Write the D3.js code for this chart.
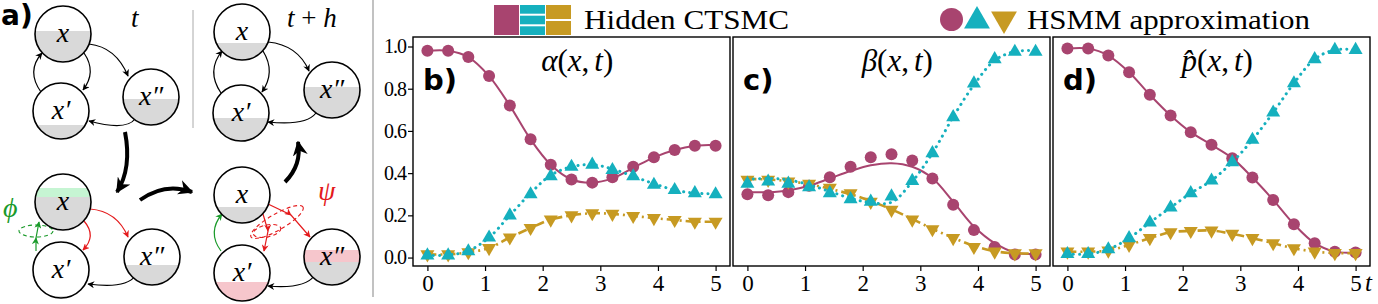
<!DOCTYPE html>
<html>
<head>
<meta charset="utf-8">
<script src="https://cdn.jsdelivr.net/npm/d3@7/dist/d3.min.js"></script>
<style>
  body { margin: 0; background: #fff; }
  svg text { font-family: "Liberation Serif", "DejaVu Serif", serif; }
</style>
</head>
<body>
<svg id="fig" width="1378" height="304"></svg>
<script>
// time grid shared by all three panels
const tVals = [0, 0.36, 0.71, 1.07, 1.43, 1.79, 2.14, 2.5, 2.86, 3.21, 3.57, 3.93, 4.29, 4.64, 5];
const xTicks = [0, 1, 2, 3, 4, 5];
const yTicks = [0, 0.2, 0.4, 0.6, 0.8, 1.0];

// b) alpha(x,t): line = hidden CTSMC, dots = HSMM approximation
const bLineM = [0.98, 0.98, 0.95, 0.86, 0.72, 0.56, 0.44, 0.37, 0.355, 0.375, 0.425, 0.475, 0.51, 0.53, 0.535];
const bLineT = [0.01, 0.012, 0.032, 0.095, 0.2, 0.305, 0.39, 0.43, 0.44, 0.42, 0.385, 0.35, 0.32, 0.305, 0.302];
const bLineG = [0.015, 0.015, 0.025, 0.045, 0.095, 0.14, 0.18, 0.2, 0.21, 0.207, 0.197, 0.187, 0.178, 0.17, 0.17];
const bDotM = [0.98, 0.98, 0.95, 0.86, 0.72, 0.56, 0.44, 0.37, 0.355, 0.38, 0.43, 0.475, 0.51, 0.53, 0.53];
const bDotT = [0.01, 0.01, 0.03, 0.095, 0.2, 0.3, 0.385, 0.43, 0.44, 0.415, 0.385, 0.345, 0.32, 0.305, 0.3];
const bDotG = [0.015, 0.015, 0.025, 0.045, 0.095, 0.14, 0.18, 0.2, 0.21, 0.207, 0.197, 0.187, 0.178, 0.17, 0.17];

// c) beta(x,t)
const cLineM = [0.31, 0.31, 0.318, 0.34, 0.375, 0.41, 0.437, 0.447, 0.43, 0.376, 0.265, 0.147, 0.068, 0.024, 0.017];
const cLineT = [0.37, 0.375, 0.368, 0.345, 0.313, 0.281, 0.26, 0.262, 0.36, 0.495, 0.666, 0.818, 0.934, 0.976, 0.98];
const cLineG = [0.372, 0.37, 0.362, 0.348, 0.326, 0.3, 0.268, 0.228, 0.183, 0.136, 0.094, 0.055, 0.03, 0.02, 0.02];
const cDotM = [0.30, 0.295, 0.31, 0.34, 0.38, 0.43, 0.475, 0.49, 0.46, 0.375, 0.25, 0.13, 0.05, 0.015, 0.015];
const cDotT = [0.35, 0.36, 0.35, 0.333, 0.305, 0.277, 0.265, 0.29, 0.363, 0.495, 0.665, 0.825, 0.94, 0.975, 0.975];
const cDotG = [0.368, 0.368, 0.36, 0.35, 0.33, 0.305, 0.264, 0.226, 0.18, 0.134, 0.092, 0.05, 0.028, 0.02, 0.02];

// d) p-hat(x,t)
const dLineM = [0.99, 0.99, 0.957, 0.878, 0.771, 0.673, 0.594, 0.534, 0.471, 0.379, 0.273, 0.158, 0.068, 0.028, 0.024];
const dLineT = [0.017, 0.017, 0.039, 0.092, 0.166, 0.237, 0.305, 0.365, 0.452, 0.558, 0.687, 0.826, 0.94, 0.984, 0.984];
const dLineG = [0.028, 0.028, 0.033, 0.06, 0.092, 0.12, 0.126, 0.128, 0.112, 0.092, 0.068, 0.044, 0.028, 0.021, 0.021];
const dDotM = [0.99, 0.99, 0.957, 0.878, 0.771, 0.673, 0.594, 0.534, 0.471, 0.379, 0.273, 0.158, 0.068, 0.028, 0.024];
const dDotT = [0.017, 0.017, 0.039, 0.092, 0.166, 0.237, 0.305, 0.365, 0.452, 0.558, 0.687, 0.826, 0.94, 0.984, 0.984];
const dDotG = [0.028, 0.028, 0.033, 0.06, 0.092, 0.12, 0.126, 0.128, 0.112, 0.092, 0.068, 0.044, 0.028, 0.021, 0.021];

const MAG = "#a8446f", TEAL = "#15b0be", GOLD = "#c79a22";

const svg = d3.select("#fig");
const defs = svg.append("defs");

// ---------- panel a) : state diagrams ----------
function arrowMarker(id, color, w, h) {
  defs.append("marker")
    .attr("id", id)
    .attr("viewBox", "0 0 10 10")
    .attr("refX", 9).attr("refY", 5)
    .attr("markerUnits", "userSpaceOnUse")
    .attr("markerWidth", w).attr("markerHeight", h)
    .attr("orient", "auto")
    .append("path")
      .attr("d", "M0,0 L10,5 L0,10 L3,5 z")
      .attr("fill", color);
}
arrowMarker("ahK", "#000", 7, 7);
arrowMarker("ahR", "#e41a1c", 7, 7);
arrowMarker("ahG", "#1a9a2a", 7, 7);
arrowMarker("ahBig", "#000", 15, 15);

const gA = svg.append("g");
let clipN = 0;

function node(cx, cy, label, bands) {
  const id = "nc" + (clipN++);
  defs.append("clipPath").attr("id", id)
    .append("circle").attr("cx", cx).attr("cy", cy).attr("r", 28);
  gA.append("circle").attr("cx", cx).attr("cy", cy).attr("r", 28).attr("fill", "#fff");
  bands.forEach(b => {
    gA.append("rect")
      .attr("x", cx - 30).attr("y", b[0])
      .attr("width", 60).attr("height", b[1] - b[0])
      .attr("fill", b[2])
      .attr("clip-path", "url(#" + id + ")");
  });
  gA.append("circle").attr("cx", cx).attr("cy", cy).attr("r", 28)
    .attr("fill", "none").attr("stroke", "#000").attr("stroke-width", 1.6);
  gA.append("text")
    .attr("x", cx).attr("y", cy + 8)
    .attr("text-anchor", "middle")
    .style("font-size", "28px").style("font-style", "italic")
    .style("font-family", "'Liberation Serif', serif")
    .text(label);
}

function arrow(d, color, marker, mid, width) {
  const p = gA.append("path").attr("d", d)
    .attr("fill", "none").attr("stroke", color)
    .attr("stroke-width", width || 1.2)
    .attr("marker-end", "url(#" + marker + ")");
  if (mid) p.attr("marker-mid", "url(#" + marker + ")");
}

function dashedEllipse(cx, cy, rx, ry, rot, color) {
  gA.append("ellipse")
    .attr("cx", 0).attr("cy", 0).attr("rx", rx).attr("ry", ry)
    .attr("transform", `translate(${cx},${cy}) rotate(${rot})`)
    .attr("fill", "none").attr("stroke", color)
    .attr("stroke-width", 1.1).attr("stroke-dasharray", "4,3");
}

const GRAY = "#d9d9d9", GREEN = "#c6f5d3", PINK = "#f6c6cc";

// arrows first so the nodes sit on top of their ends
// top left (t)
arrow("M84,53 Q97,72 83,90", "#000", "ahK");
arrow("M41,92 Q26,71 42,53", "#000", "ahK");
arrow("M89,44 Q116,47 128,76", "#000", "ahK");
arrow("M135,119 Q126,131 89,121", "#000", "ahK");
// top right (t + h)
arrow("M263,51 Q276,72 262,92", "#000", "ahK");
arrow("M221,93 Q206,71 222,51", "#000", "ahK");
arrow("M268,42 Q298,45 309,71", "#000", "ahK");
arrow("M316,113 Q306,126 268,122", "#000", "ahK");
// bottom left
arrow("M84,221 Q97,236 83,250", "#e41a1c", "ahR");
arrow("M90,209 Q117,211 128,237", "#e41a1c", "ahR");
arrow("M36,251 L36,238 L39,222", "#1a9a2a", "ahG", true);
arrow("M135,276 Q126,289 88,284", "#000", "ahK");
// bottom right
arrow("M221,251 Q207,232 222,214", "#1a9a2a", "ahG");
arrow("M263,214 L268,231 L264,251", "#e41a1c", "ahR", true);
arrow("M268,204 L291,215 L310,237", "#e41a1c", "ahR", true);
arrow("M314,276 Q305,289 268,286", "#000", "ahK");

dashedEllipse(36, 231, 17, 6, 0, "#1a9a2a");
dashedEllipse(267, 231, 14, 6, -12, "#e41a1c");
dashedEllipse(277, 222, 30, 8, -30, "#e41a1c");

node(63, 34, "x", [[31, 70, GRAY]]);
node(151, 97, "x\u2033", [[99, 130, GRAY]]);
node(61, 111, "x\u2032", [[125, 145, GRAY]]);

node(242, 32, "x", [[43, 65, GRAY]]);
node(332, 90, "x\u2033", [[87, 125, GRAY]]);
node(241, 113, "x\u2032", [[118, 145, GRAY]]);

node(63, 202, "x", [[188, 197, GREEN], [197, 235, GRAY]]);
node(152, 257, "x\u2033", [[265, 290, GRAY]]);
node(61, 270, "x\u2032", [[296, 302, GRAY]]);

node(242, 195, "x", [[207, 230, GRAY]]);
node(332, 257, "x\u2033", [[250, 262, PINK], [262, 290, GRAY]]);
node(242, 273, "x\u2032", [[282, 305, PINK]]);

// big transition arrows
arrow("M125,132 Q132,168 117,192", "#000", "ahBig", false, 4);
arrow("M140,200 Q165,182 192,192", "#000", "ahBig", false, 4);
arrow("M285,182 Q302,165 298,142", "#000", "ahBig", false, 4);

gA.append("text").attr("x", 1).attr("y", 25)
  .style("font-family", "'DejaVu Sans', sans-serif").style("font-weight", "bold")
  .style("font-size", "28px").text("a)");
gA.append("text").attr("x", 131).attr("y", 27)
  .style("font-size", "27px").style("font-style", "italic").text("t");
const th = gA.append("text").attr("x", 287).attr("y", 27).style("font-size", "27px");
th.append("tspan").style("font-style", "italic").text("t");
th.append("tspan").text(" + ");
th.append("tspan").style("font-style", "italic").text("h");
gA.append("text").attr("x", 3).attr("y", 217)
  .attr("fill", "#1a9a2a").style("font-size", "28px").style("font-style", "italic").text("\u03d5");
gA.append("text").attr("x", 318).attr("y", 200)
  .attr("fill", "#e41a1c").style("font-size", "28px").style("font-style", "italic").text("\u03c8");

// separators
svg.append("line").attr("x1", 193).attr("x2", 193).attr("y1", 10).attr("y2", 128)
  .attr("stroke", "#aaa").attr("stroke-width", 1);
svg.append("line").attr("x1", 373).attr("x2", 373).attr("y1", 0).attr("y2", 297)
  .attr("stroke", "#999").attr("stroke-width", 1.2);

// ---------- legend ----------
const lg = svg.append("g");
lg.append("rect").attr("x", 494).attr("y", 5).attr("width", 25).attr("height", 30).attr("fill", MAG);
[[5, 13.7], [15.7, 24.3], [26.3, 35]].forEach(s =>
  lg.append("rect").attr("x", 520).attr("y", s[0]).attr("width", 25).attr("height", s[1] - s[0]).attr("fill", TEAL));
[[5, 19], [21, 35]].forEach(s =>
  lg.append("rect").attr("x", 546).attr("y", s[0]).attr("width", 25).attr("height", s[1] - s[0]).attr("fill", GOLD));
lg.append("text").attr("x", 584).attr("y", 29).style("font-size", "28px")
  .attr("textLength", 205).attr("lengthAdjust", "spacingAndGlyphs").text("Hidden CTSMC");
lg.append("circle").attr("cx", 951.5).attr("cy", 19.5).attr("r", 11.5).attr("fill", MAG);
lg.append("path").attr("transform", "translate(977,21)")
  .attr("d", d3.symbol(d3.symbolTriangle, 290)()).attr("fill", TEAL);
lg.append("path").attr("transform", "translate(1004,19) rotate(180)")
  .attr("d", d3.symbol(d3.symbolTriangle, 290)()).attr("fill", GOLD);
lg.append("text").attr("x", 1027).attr("y", 29).style("font-size", "28px")
  .attr("textLength", 283).attr("lengthAdjust", "spacingAndGlyphs").text("HSMM approximation");

// ---------- panels b, c, d ----------
const boxTop = 37, boxBottom = 266, boxW = 317;
const y = d3.scaleLinear().domain([-0.04, 1.045]).range([boxBottom, boxTop]);

const panels = [
  { left: 413, label: "b)", fn: "\u03b1", hat: false, showY: true,
    lines: [bLineM, bLineG, bLineT], dots: [bDotM, bDotG, bDotT] },
  { left: 733, label: "c)", fn: "\u03b2", hat: false, showY: false,
    lines: [cLineM, cLineG, cLineT], dots: [cDotM, cDotG, cDotT] },
  { left: 1053, label: "d)", fn: "p", hat: true, showY: false,
    lines: [dLineM, dLineG, dLineT], dots: [dDotM, dDotG, dDotT] }
];

// order: magenta, gold, teal (teal markers end up on top)
const styles = [
  { color: MAG, width: 2, dash: null, cap: "butt", shape: "circle" },
  { color: GOLD, width: 2.6, dash: "9,4,2,4", cap: "butt", shape: "down" },
  { color: TEAL, width: 3, dash: "0.1,6", cap: "round", shape: "up" }
];

panels.forEach(p => {
  const x = d3.scaleLinear().domain([-0.25, 5.25]).range([p.left, p.left + boxW]);
  const g = svg.append("g");

  const line = d3.line().x((d, i) => x(tVals[i])).y(d => y(d)).curve(d3.curveCatmullRom);

  styles.forEach((s, k) => {
    g.append("path").datum(p.lines[k])
      .attr("d", line)
      .attr("fill", "none").attr("stroke", s.color)
      .attr("stroke-width", s.width)
      .attr("stroke-dasharray", s.dash)
      .attr("stroke-linecap", s.cap);

    const pts = g.selectAll(null).data(p.dots[k]).enter();
    if (s.shape === "circle") {
      pts.append("circle")
        .attr("cx", (d, i) => x(tVals[i])).attr("cy", d => y(d))
        .attr("r", 6).attr("fill", s.color);
    } else {
      pts.append("path")
        .attr("d", d3.symbol(d3.symbolTriangle, 85)())
        .attr("transform", (d, i) => `translate(${x(tVals[i])},${y(d)})` + (s.shape === "down" ? " rotate(180)" : ""))
        .attr("fill", s.color);
    }
  });

  // frame
  g.append("rect").attr("x", p.left).attr("y", boxTop)
    .attr("width", boxW).attr("height", boxBottom - boxTop)
    .attr("fill", "none").attr("stroke", "#000").attr("stroke-width", 1.4);

  // x axis
  const xa = g.append("g").attr("transform", `translate(0,${boxBottom})`)
    .call(d3.axisBottom(x).tickValues(xTicks).tickFormat(d3.format("d"))
      .tickSize(5).tickSizeOuter(0).tickPadding(4));
  xa.select(".domain").remove();
  xa.selectAll("text").style("font-size", "23px").style("font-family", "'Liberation Serif', serif");
  xa.selectAll("line").attr("stroke-width", 1.2);

  if (p.showY) {
    const ya = g.append("g").attr("transform", `translate(${p.left},0)`)
      .call(d3.axisLeft(y).tickValues(yTicks).tickFormat(d3.format(".1f")).tickSize(5).tickSizeOuter(0).tickPadding(2));
    ya.select(".domain").remove();
    ya.selectAll("text").style("font-size", "20px").style("font-family", "'Liberation Serif', serif")
      .attr("letter-spacing", "-1px");
    ya.selectAll("line").attr("stroke-width", 1.2);
  }

  // panel letter
  g.append("text").attr("x", p.left + 10).attr("y", 90)
    .style("font-family", "'DejaVu Sans', sans-serif").style("font-weight", "bold")
    .style("font-size", "29px").text(p.label);

  // title like alpha(x,t)
  const tt = g.append("text").attr("x", x(2.6)).attr("y", 71)
    .attr("text-anchor", "middle").style("font-size", "31px");
  tt.append("tspan").style("font-style", "italic").text(p.hat ? "p\u0302" : p.fn);
  tt.append("tspan").text("(");
  tt.append("tspan").style("font-style", "italic").text("x");
  tt.append("tspan").text(",");
  tt.append("tspan").style("font-style", "italic").attr("dx", 5).text("t");
  tt.append("tspan").text(")");
});

// time label at the end of the last axis
svg.append("text").attr("x", 1365).attr("y", 291)
  .style("font-size", "25px").style("font-style", "italic").text("t");
</script>
</body>
</html>
